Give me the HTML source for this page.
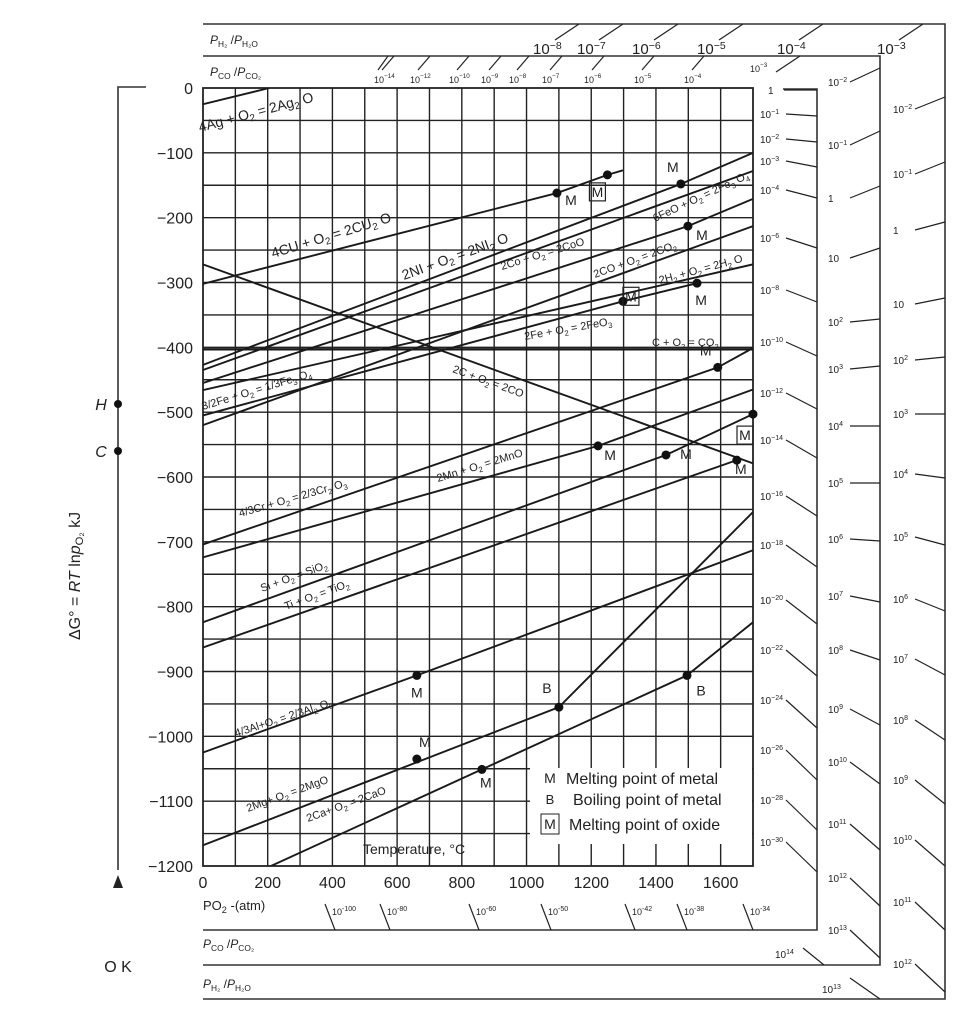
<!DOCTYPE html>
<html><head><meta charset="utf-8">
<style>
html,body{margin:0;padding:0;background:#fff;}
svg{display:block;font-family:"Liberation Sans",sans-serif;}
</style></head>
<body>
<svg id="chart" width="967" height="1024" viewBox="0 0 967 1024" xmlns="http://www.w3.org/2000/svg">
<g id="frames" fill="none" stroke="#333" stroke-width="1.6">
  <polyline points="203,24 945,24 945,999 203,999"/>
  <polyline points="203,56 880,56 880,965 203,965"/>
  <polyline points="783,89 817,89 817,930 203,930"/>
  <polyline points="146,87 118,87 118,870"/>
</g>
<g id="grid"></g>
<g id="series"></g>
<g id="labels"></g>
</svg>
<script>
const NS='http://www.w3.org/2000/svg';
// ---- data ----
const tempTicks=[0,200,400,600,800,1000,1200,1400,1600];
const gTicks=[0,-100,-200,-300,-400,-500,-600,-700,-800,-900,-1000,-1100,-1200];
const lineNames=['ag','cu','ni','feo-fe3o4','co','h2','feo','co2','c-co','c-co2','cr','mn','si','ti','al','mg','ca'];
const lineT=[[0,205],[0,1094,1250,1298],[0,1477,1700],[0,1700],[0,1499,1700],[0,1700],[0,1298,1527],[0,1700],[0,1700],[0,1700],[0,1591,1700],[0,1221,1700],[0,1431,1700],[0,1650],[0,661,1700],[0,1100,1700],[0,862,1496,1700]];
const lineG=[[-25,0],[-302,-162,-134,-127],[-427,-148,-100],[-435,-128],[-455,-213,-171],[-466,-272],[-505,-329,-301],[-520,-213],[-272,-579],[-403,-403],[-704,-431,-401],[-724,-552,-465],[-824,-566,-503],[-863,-574],[-1025,-906,-713],[-1168,-955,-654],[-1248,-1051,-906,-824]];
const dotT=[1094,1250,1477,1499,1298,1527,1591,1221,1431,1650,1700,661,661,1100,862,1496];
const dotG=[-162,-134,-148,-213,-329,-301,-431,-552,-566,-574,-503,-906,-1035,-955,-1051,-906];
const dotMark=['M','BM','M','M','BM','M','M','M','M','M','BM','M','M','B','M','B'];
const dotLabDx=[14,-10,-8,14,8,4,-12,12,20,4,-8,0,8,-12,4,14];
const dotLabDy=[12,22,-12,14,0,22,-12,14,4,14,26,22,-12,-14,18,20];
const po2Labels=['10-100','10-80','10-60','10-50','10-42','10-38','10-34'];
const po2TickX=[330,385,474,546,630,682,748];
// ---- scales ----
const X0=203,X1=753,Y0=88,Y1=866;
const x=t=>X0+(t/1700)*(X1-X0);
const y=g=>Y0+(-g/1200)*(Y1-Y0);
const grid=document.getElementById('grid'),series=document.getElementById('series'),labels=document.getElementById('labels');
function mk(tag,attrs,parent){const e=document.createElementNS(NS,tag);for(const k in attrs)e.setAttribute(k,attrs[k]);parent.appendChild(e);return e;}
// grid
for(let t=100;t<1700;t+=100){const l=mk('line',{x1:x(t),y1:Y0,x2:x(t),y2:Y1,stroke:'#222','stroke-width':1.4},grid);

}
for(let g=-50;g>-1200;g-=50){const l=mk('line',{x1:X0,y1:y(g),x2:X1,y2:y(g),stroke:'#222','stroke-width':1.4},grid);

}
const box=mk('rect',{x:X0,y:Y0,width:X1-X0,height:Y1-Y0,fill:'none',stroke:'#222','stroke-width':1.8},grid);


// tick labels
tempTicks.forEach(t=>{const e=mk('text',{x:x(t),y:888,'font-size':16,'text-anchor':'middle',fill:'#222'},labels);e.textContent=t;

});
gTicks.forEach(g=>{const e=mk('text',{x:193,y:y(g)+6,'font-size':16,'text-anchor':'end',fill:'#222'},labels);e.textContent=g===0?'0':'\u2212'+(-g);

});
// clip
const defs=mk('defs',{},series);const cp=mk('clipPath',{id:'clip'},defs);mk('rect',{x:X0,y:Y0,width:X1-X0,height:Y1-Y0},cp);
// lines
lineNames.forEach((n,i)=>{const pts=lineT[i].map((t,j)=>x(t)+','+y(lineG[i][j])).join(' ');
const p=mk('polyline',{points:pts,fill:'none',stroke:'#1a1a1a','stroke-width':n==='c-co2'?2.4:1.9,'clip-path':'url(#clip)'},series);

});
// dots
dotT.forEach((t,i)=>{const cx=x(t),cy=y(dotG[i]);
const c=mk('circle',{cx:cx,cy:cy,r:4.5,fill:'#111'},series);


const m=dotMark[i],lx=cx+dotLabDx[i],ly=cy+dotLabDy[i];
const tx=mk('text',{x:lx,y:ly,'font-size':14,'text-anchor':'middle',fill:'#222'},labels);tx.textContent=m==='BM'?'M':m;


if(m==='BM'){const r=mk('rect',{x:lx-8,y:ly-14,width:16,height:18,fill:'none',stroke:'#222','stroke-width':1.2},labels);

}});
// po2 bottom ticks
po2Labels.forEach((s,i)=>{const tx=po2TickX[i];
const l=mk('line',{x1:tx-5,y1:904,x2:tx+5,y2:930,stroke:'#222','stroke-width':1.2},labels);


const e=mk('text',{x:tx+2,y:915,'font-size':9,fill:'#222'},labels);e.innerHTML='10<tspan dy="-4" font-size="7">'+s.slice(2)+'</tspan>';

});
</script>
<svg width="0" height="0"></svg>
<script>
// static labels / scales (separate script)
(function(){
const NS='http://www.w3.org/2000/svg';const L=document.getElementById('labels');
function t(x,y,html,fs,rot,name,anchor){const e=document.createElementNS(NS,'text');e.setAttribute('x',x);e.setAttribute('y',y);e.setAttribute('font-size',fs);e.setAttribute('fill','#222');if(anchor)e.setAttribute('text-anchor',anchor);if(rot)e.setAttribute('transform','rotate('+rot+' '+x+' '+y+')');e.innerHTML=html;


L.appendChild(e);return e;}
function ln(x1,y1,x2,y2,name){const e=document.createElementNS(NS,'line');e.setAttribute('x1',x1);e.setAttribute('y1',y1);e.setAttribute('x2',x2);e.setAttribute('y2',y2);e.setAttribute('stroke','#222');e.setAttribute('stroke-width','1.2');


L.appendChild(e);}
const s=v=>'<tspan font-size="0.7em" dy="3">'+v+'</tspan><tspan dy="-3"> </tspan>';
const sp=v=>'<tspan font-size="0.7em" dy="-5">'+v+'</tspan><tspan dy="5"></tspan>';
// reaction labels
t(200,132,'4Ag + O'+s('2')+'= 2Ag'+s('2')+'O',14,-15,'label-ag');
t(273,258,'4CU + O'+s('2')+'= 2CU'+s('2')+'O',14,-17,'label-cu');
t(404,280,'2NI + O'+s('2')+'= 2NI'+s('2')+'O',14,-20,'label-ni');
t(502,270,'2Co + O'+s('2')+'= 2CoO',11,-17,'label-co');
t(595,278,'2CO + O'+s('2')+'= 2CO'+s('2'),11,-20,'label-co2');
t(655,222,'6FeO + O'+s('2')+'= 2Fe'+s('3')+'O'+s('4'),11,-25,'label-fe3o4');
t(660,284,'2H'+s('2')+'+ O'+s('2')+'= 2H'+s('2')+'O',11,-15,'label-h2');
t(525,340,'2Fe + O'+s('2')+'= 2FeO'+s('3'),11,-10,'label-feo');
t(652,346,'C + O'+s('2')+'= CO'+s('2'),11,0,'label-c-co2');
t(452,372,'2C + O'+s('2')+'= 2CO',11,20,'label-c-co');
t(203,410,'3/2Fe + O'+s('2')+'= 1/3Fe'+s('3')+'O'+s('4'),11,-17,'label-fe3o4-left');
t(438,482,'2Mn + O'+s('2')+'= 2MnO',11,-17,'label-mn');
t(240,517,'4/3Cr + O'+s('2')+'= 2/3Cr'+s('2')+'O'+s('3'),11,-16,'label-cr');
t(262,592,'Si + O'+s('2')+'= SiO'+s('2'),11,-20,'label-si');
t(286,610,'Ti + O'+s('2')+'= TiO'+s('2'),11,-20,'label-ti');
t(236,737,'4/3Al+O'+s('2')+'= 2/3Al'+s('2')+'O'+s('3'),11,-18,'label-al');
t(248,812,'2Mg+ O'+s('2')+'= 2MgO',11,-20,'label-mg');
t(308,822,'2Ca+ O'+s('2')+'= 2CaO',11,-20,'label-ca');
t(363,854,'Temperature, °C',14,0,'x-axis-title');
// legend
const bg=document.createElementNS(NS,'rect');bg.setAttribute('x',530);bg.setAttribute('y',768);bg.setAttribute('width',222);bg.setAttribute('height',76);bg.setAttribute('fill','#fff');


L.appendChild(bg);
t(550,783,'M',14,0,'legend-symbol-m','middle');t(566,784,'Melting point of metal',16,0,'legend-entry-metal-melt');
t(550,804,'B',13,0,'legend-symbol-b','middle');t(573,805,'Boiling point of metal',16,0,'legend-entry-boil');
t(550,829,'M',14,0,'legend-symbol-box','middle');
const lb=document.createElementNS(NS,'rect');lb.setAttribute('x',541);lb.setAttribute('y',814);lb.setAttribute('width',18);lb.setAttribute('height',20);lb.setAttribute('fill','none');lb.setAttribute('stroke','#222');


L.appendChild(lb);
t(569,830,'Melting point of oxide',16,0,'legend-entry-oxide-melt');
// left axis
t(80,640,'ΔG° = <tspan font-style="italic">RT</tspan> ln<tspan font-style="italic">p</tspan>'+s('O₂')+'kJ',16,-90,'y-axis-title');
[[404,'H'],[451,'C']].forEach(a=>{const c=document.createElementNS(NS,'circle');c.setAttribute('cx',118);c.setAttribute('cy',a[0]);c.setAttribute('r',4);c.setAttribute('fill','#111');


L.appendChild(c);t(101,a[0]+6,a[1],16,0,'label-'+a[1].toLowerCase(),'middle').setAttribute('font-style','italic');});
const ar=document.createElementNS(NS,'polygon');ar.setAttribute('points','118,875 113,888 123,888');ar.setAttribute('fill','#222');


L.appendChild(ar);
t(118,972,'O K',16,0,'zero-kelvin-label','middle');
// scale titles
t(210,44,'<tspan font-style="italic">P</tspan>'+s('H₂')+'/<tspan font-style="italic">P</tspan>'+s('H₂O'),12,0,'h2-ratio-title');
t(210,76,'<tspan font-style="italic">P</tspan>'+s('CO')+'/<tspan font-style="italic">P</tspan>'+s('CO₂'),12,0,'co-ratio-title');
t(203,910,'PO'+s('2')+'-(atm)',13,0,'po2-title');
t(203,948,'<tspan font-style="italic">P</tspan>'+s('CO')+'/<tspan font-style="italic">P</tspan>'+s('CO₂'),12,0,'co-ratio-title-bottom');
t(203,988,'<tspan font-style="italic">P</tspan>'+s('H₂')+'/<tspan font-style="italic">P</tspan>'+s('H₂O'),12,0,'h2-ratio-title-bottom');
// top row 1
[[551,'−8'],[595,'−7'],[650,'−6'],[715,'−5'],[795,'−4'],[895,'−3']].forEach(a=>{t(a[0]-18,54,'10'+sp(a[1]),15,0,'h2-ratio-top-label');ln(a[0]+4,40,a[0]+28,24,'h2-ratio-top-tick');});
ln(388,56,378,70,'co-top-tick');
[[380,'−14'],[416,'−12'],[455,'−10'],[487,'−9'],[515,'−8'],[548,'−7'],[590,'−6'],[640,'−5'],[690,'−4']].forEach(a=>{t(a[0]-6,83,'10'+sp(a[1]),9,0,'co-ratio-top-label');ln(a[0]+2,70,a[0]+14,56,'co-ratio-top-tick');});
t(750,72,'10'+sp('−3'),9,0,'co-ratio-top-label');ln(776,72,800,56,'co-ratio-top-tick');
// right inner PO2 scale
[[90,'1',0],[114,'10<tspan font-size="7" dy="-4">−1</tspan>',2],[139,'10<tspan font-size="7" dy="-4">−2</tspan>',3],[161,'10<tspan font-size="7" dy="-4">−3</tspan>',6],[190,'10<tspan font-size="7" dy="-4">−4</tspan>',8],[238,'10<tspan font-size="7" dy="-4">−6</tspan>',10],[290,'10<tspan font-size="7" dy="-4">−8</tspan>',12],[342,'10<tspan font-size="7" dy="-4">−10</tspan>',14],[393,'10<tspan font-size="7" dy="-4">−12</tspan>',16],[440,'10<tspan font-size="7" dy="-4">−14</tspan>',18],[496,'10<tspan font-size="7" dy="-4">−16</tspan>',20],[545,'10<tspan font-size="7" dy="-4">−18</tspan>',22],[600,'10<tspan font-size="7" dy="-4">−20</tspan>',24],[650,'10<tspan font-size="7" dy="-4">−22</tspan>',26],[700,'10<tspan font-size="7" dy="-4">−24</tspan>',28],[750,'10<tspan font-size="7" dy="-4">−26</tspan>',30],[800,'10<tspan font-size="7" dy="-4">−28</tspan>',30],[842,'10<tspan font-size="7" dy="-4">−30</tspan>',30]].forEach((a,i)=>{t(i===0?768:760,a[0]+4,a[1],10,0,'po2-right-label');ln(i===0?784:786,a[0],817,a[0]+a[2],'po2-right-tick');});
// middle CO scale
[[82,'10<tspan font-size="7" dy="-4">−2</tspan>',-14],[145,'10<tspan font-size="7" dy="-4">−1</tspan>',-14],[198,'1',-12],[258,'10',-10],[322,'10<tspan font-size="7" dy="-4">2</tspan>',-3],[369,'10<tspan font-size="7" dy="-4">3</tspan>',-3],[426,'10<tspan font-size="7" dy="-4">4</tspan>',0],[483,'10<tspan font-size="7" dy="-4">5</tspan>',0],[539,'10<tspan font-size="7" dy="-4">6</tspan>',2],[596,'10<tspan font-size="7" dy="-4">7</tspan>',6],[650,'10<tspan font-size="7" dy="-4">8</tspan>',10],[709,'10<tspan font-size="7" dy="-4">9</tspan>',16],[762,'10<tspan font-size="7" dy="-4">10</tspan>',22],[824,'10<tspan font-size="7" dy="-4">11</tspan>',26],[878,'10<tspan font-size="7" dy="-4">12</tspan>',28],[930,'10<tspan font-size="7" dy="-4">13</tspan>',28]].forEach(a=>{t(828,a[0]+4,a[1],10,0,'co-right-label');ln(850,a[0],880,a[0]+a[2],'co-right-tick');});
t(775,958,'10<tspan font-size="7" dy="-4">14</tspan>',10,0,'co-right-label');ln(803,948,824,965,'co-right-tick');
// outer H2 scale
[[109,'10<tspan font-size="7" dy="-4">−2</tspan>',-12],[174,'10<tspan font-size="7" dy="-4">−1</tspan>',-12],[230,'1',-8],[304,'10',-6],[360,'10<tspan font-size="7" dy="-4">2</tspan>',-3],[414,'10<tspan font-size="7" dy="-4">3</tspan>',0],[474,'10<tspan font-size="7" dy="-4">4</tspan>',4],[537,'10<tspan font-size="7" dy="-4">5</tspan>',8],[599,'10<tspan font-size="7" dy="-4">6</tspan>',12],[659,'10<tspan font-size="7" dy="-4">7</tspan>',16],[720,'10<tspan font-size="7" dy="-4">8</tspan>',20],[780,'10<tspan font-size="7" dy="-4">9</tspan>',24],[840,'10<tspan font-size="7" dy="-4">10</tspan>',26],[902,'10<tspan font-size="7" dy="-4">11</tspan>',28],[964,'10<tspan font-size="7" dy="-4">12</tspan>',28]].forEach(a=>{t(893,a[0]+4,a[1],10,0,'h2-right-label');ln(915,a[0],945,a[0]+a[2],'h2-right-tick');});
t(822,993,'10<tspan font-size="7" dy="-4">13</tspan>',10,0,'h2-right-label');ln(850,978,880,999,'h2-right-tick');
})();
</script>
</body></html>
